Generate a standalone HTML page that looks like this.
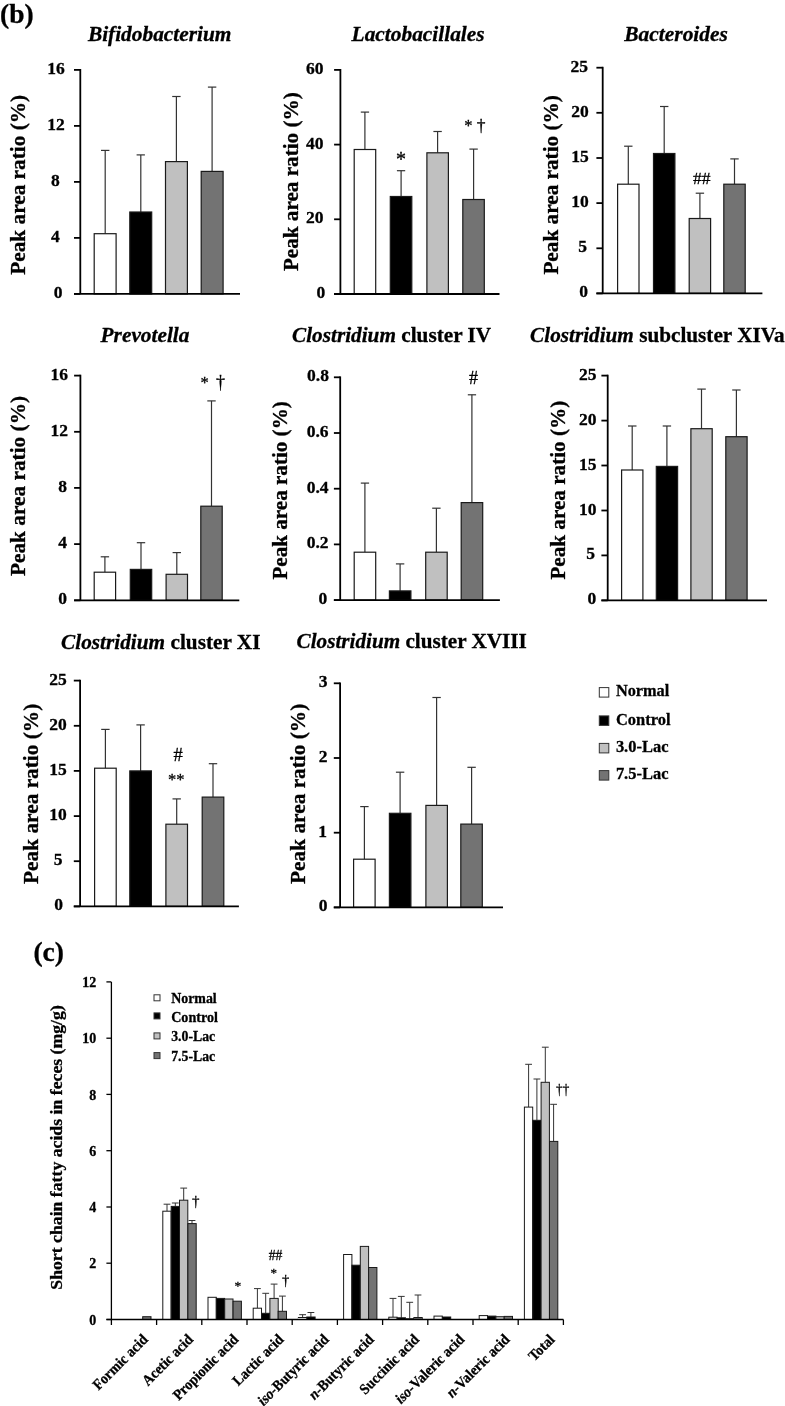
<!DOCTYPE html>
<html><head><meta charset="utf-8"><style>
html,body{margin:0;padding:0;background:#fff;}
svg{display:block;font-family:'Liberation Serif', 'Times New Roman', serif;}
text{stroke:#000;stroke-width:0.3px;}
</style></head><body>
<svg width="785" height="1406" viewBox="0 0 785 1406">
<line x1="105.2" y1="233.7" x2="105.2" y2="150.4" stroke="#333" stroke-width="1.2"/>
<line x1="101.0" y1="150.4" x2="109.4" y2="150.4" stroke="#333" stroke-width="1.2"/>
<rect x="94.2" y="233.7" width="21.9" height="60.2" fill="#ffffff" stroke="#1a1a1a" stroke-width="1.2"/>
<line x1="140.8" y1="212.0" x2="140.8" y2="154.9" stroke="#333" stroke-width="1.2"/>
<line x1="136.6" y1="154.9" x2="144.9" y2="154.9" stroke="#333" stroke-width="1.2"/>
<rect x="129.8" y="212.0" width="21.9" height="81.9" fill="#000000" stroke="#1a1a1a" stroke-width="1.2"/>
<line x1="176.4" y1="161.6" x2="176.4" y2="96.5" stroke="#333" stroke-width="1.2"/>
<line x1="172.2" y1="96.5" x2="180.6" y2="96.5" stroke="#333" stroke-width="1.2"/>
<rect x="165.5" y="161.6" width="21.9" height="132.3" fill="#c0c0c0" stroke="#1a1a1a" stroke-width="1.2"/>
<line x1="212.1" y1="171.4" x2="212.1" y2="87.1" stroke="#333" stroke-width="1.2"/>
<line x1="207.9" y1="87.1" x2="216.3" y2="87.1" stroke="#333" stroke-width="1.2"/>
<rect x="201.2" y="171.4" width="21.9" height="122.5" fill="#737373" stroke="#1a1a1a" stroke-width="1.2"/>
<line x1="80.3" y1="69.0" x2="80.3" y2="293.9" stroke="#000" stroke-width="1.8"/>
<line x1="74.0" y1="293.9" x2="240" y2="293.9" stroke="#000" stroke-width="1.8"/>
<line x1="74.0" y1="293.9" x2="80.3" y2="293.9" stroke="#000" stroke-width="1.8"/>
<text x="62.4" y="297.9" text-anchor="end" style="font-size:17.5px;font-weight:bold" >0</text>
<line x1="74.0" y1="237.9" x2="80.3" y2="237.9" stroke="#000" stroke-width="1.8"/>
<text x="59.7" y="241.9" text-anchor="end" style="font-size:17.5px;font-weight:bold" >4</text>
<line x1="74.0" y1="181.9" x2="80.3" y2="181.9" stroke="#000" stroke-width="1.8"/>
<text x="59.7" y="185.9" text-anchor="end" style="font-size:17.5px;font-weight:bold" >8</text>
<line x1="74.0" y1="125.9" x2="80.3" y2="125.9" stroke="#000" stroke-width="1.8"/>
<text x="64.8" y="129.9" text-anchor="end" style="font-size:17.5px;font-weight:bold" >12</text>
<line x1="74.0" y1="69.9" x2="80.3" y2="69.9" stroke="#000" stroke-width="1.8"/>
<text x="64.8" y="73.9" text-anchor="end" style="font-size:17.5px;font-weight:bold" >16</text>
<text x="87.9" y="41.4" textLength="143.6" lengthAdjust="spacingAndGlyphs" style="font-size:21px;font-weight:bold"><tspan font-style="italic">Bifidobacterium</tspan></text>
<text transform="translate(24.8,274.8) rotate(-90)" textLength="180.0" lengthAdjust="spacingAndGlyphs" style="font-size:21px;font-weight:bold">Peak area ratio (%)</text>
<line x1="364.9" y1="149.5" x2="364.9" y2="112.1" stroke="#333" stroke-width="1.2"/>
<line x1="360.8" y1="112.1" x2="369.1" y2="112.1" stroke="#333" stroke-width="1.2"/>
<rect x="354.2" y="149.5" width="21.5" height="144.5" fill="#ffffff" stroke="#1a1a1a" stroke-width="1.2"/>
<line x1="401.1" y1="196.5" x2="401.1" y2="170.7" stroke="#333" stroke-width="1.2"/>
<line x1="396.9" y1="170.7" x2="405.2" y2="170.7" stroke="#333" stroke-width="1.2"/>
<rect x="390.3" y="196.5" width="21.5" height="97.5" fill="#000000" stroke="#1a1a1a" stroke-width="1.2"/>
<line x1="437.6" y1="152.8" x2="437.6" y2="131.5" stroke="#333" stroke-width="1.2"/>
<line x1="433.4" y1="131.5" x2="441.8" y2="131.5" stroke="#333" stroke-width="1.2"/>
<rect x="426.9" y="152.8" width="21.5" height="141.2" fill="#c0c0c0" stroke="#1a1a1a" stroke-width="1.2"/>
<line x1="473.6" y1="199.5" x2="473.6" y2="149.1" stroke="#333" stroke-width="1.2"/>
<line x1="469.4" y1="149.1" x2="477.8" y2="149.1" stroke="#333" stroke-width="1.2"/>
<rect x="462.8" y="199.5" width="21.5" height="94.5" fill="#737373" stroke="#1a1a1a" stroke-width="1.2"/>
<line x1="340.4" y1="69.0" x2="340.4" y2="294.0" stroke="#000" stroke-width="1.8"/>
<line x1="334.1" y1="294.0" x2="499.5" y2="294.0" stroke="#000" stroke-width="1.8"/>
<line x1="334.1" y1="294.0" x2="340.4" y2="294.0" stroke="#000" stroke-width="1.8"/>
<text x="325.3" y="298.0" text-anchor="end" style="font-size:17.5px;font-weight:bold" >0</text>
<line x1="334.1" y1="219.3" x2="340.4" y2="219.3" stroke="#000" stroke-width="1.8"/>
<text x="323.6" y="223.3" text-anchor="end" style="font-size:17.5px;font-weight:bold" >20</text>
<line x1="334.1" y1="144.6" x2="340.4" y2="144.6" stroke="#000" stroke-width="1.8"/>
<text x="323.6" y="148.6" text-anchor="end" style="font-size:17.5px;font-weight:bold" >40</text>
<line x1="334.1" y1="69.9" x2="340.4" y2="69.9" stroke="#000" stroke-width="1.8"/>
<text x="323.6" y="73.9" text-anchor="end" style="font-size:17.5px;font-weight:bold" >60</text>
<text x="351.6" y="41.4" textLength="133.0" lengthAdjust="spacingAndGlyphs" style="font-size:21px;font-weight:bold"><tspan font-style="italic">Lactobacillales</tspan></text>
<text transform="translate(297.8,271.1) rotate(-90)" textLength="178.8" lengthAdjust="spacingAndGlyphs" style="font-size:21px;font-weight:bold">Peak area ratio (%)</text>
<line x1="628.3" y1="184.2" x2="628.3" y2="146.2" stroke="#333" stroke-width="1.2"/>
<line x1="624.1" y1="146.2" x2="632.5" y2="146.2" stroke="#333" stroke-width="1.2"/>
<rect x="617.6" y="184.2" width="21.4" height="109.2" fill="#ffffff" stroke="#1a1a1a" stroke-width="1.2"/>
<line x1="664.2" y1="153.5" x2="664.2" y2="106.5" stroke="#333" stroke-width="1.2"/>
<line x1="660.0" y1="106.5" x2="668.4" y2="106.5" stroke="#333" stroke-width="1.2"/>
<rect x="653.5" y="153.5" width="21.4" height="139.9" fill="#000000" stroke="#1a1a1a" stroke-width="1.2"/>
<line x1="699.9" y1="218.5" x2="699.9" y2="193.2" stroke="#333" stroke-width="1.2"/>
<line x1="695.7" y1="193.2" x2="704.1" y2="193.2" stroke="#333" stroke-width="1.2"/>
<rect x="689.2" y="218.5" width="21.4" height="74.9" fill="#c0c0c0" stroke="#1a1a1a" stroke-width="1.2"/>
<line x1="734.5" y1="184.2" x2="734.5" y2="158.9" stroke="#333" stroke-width="1.2"/>
<line x1="730.3" y1="158.9" x2="738.7" y2="158.9" stroke="#333" stroke-width="1.2"/>
<rect x="723.8" y="184.2" width="21.4" height="109.2" fill="#737373" stroke="#1a1a1a" stroke-width="1.2"/>
<line x1="602.7" y1="66.8" x2="602.7" y2="293.4" stroke="#000" stroke-width="1.8"/>
<line x1="596.4" y1="293.4" x2="762.4" y2="293.4" stroke="#000" stroke-width="1.8"/>
<line x1="596.4" y1="293.4" x2="602.7" y2="293.4" stroke="#000" stroke-width="1.8"/>
<text x="587.9" y="297.4" text-anchor="end" style="font-size:17.5px;font-weight:bold" >0</text>
<line x1="596.4" y1="248.3" x2="602.7" y2="248.3" stroke="#000" stroke-width="1.8"/>
<text x="587.1" y="252.3" text-anchor="end" style="font-size:17.5px;font-weight:bold" >5</text>
<line x1="596.4" y1="203.1" x2="602.7" y2="203.1" stroke="#000" stroke-width="1.8"/>
<text x="588.8" y="207.1" text-anchor="end" style="font-size:17.5px;font-weight:bold" >10</text>
<line x1="596.4" y1="158.0" x2="602.7" y2="158.0" stroke="#000" stroke-width="1.8"/>
<text x="588.8" y="162.0" text-anchor="end" style="font-size:17.5px;font-weight:bold" >15</text>
<line x1="596.4" y1="112.8" x2="602.7" y2="112.8" stroke="#000" stroke-width="1.8"/>
<text x="588.8" y="116.8" text-anchor="end" style="font-size:17.5px;font-weight:bold" >20</text>
<line x1="596.4" y1="67.7" x2="602.7" y2="67.7" stroke="#000" stroke-width="1.8"/>
<text x="587.9" y="71.7" text-anchor="end" style="font-size:17.5px;font-weight:bold" >25</text>
<text x="624.3" y="41.0" textLength="103.6" lengthAdjust="spacingAndGlyphs" style="font-size:21px;font-weight:bold"><tspan font-style="italic">Bacteroides</tspan></text>
<text transform="translate(557.8,274.6) rotate(-90)" textLength="179.5" lengthAdjust="spacingAndGlyphs" style="font-size:21px;font-weight:bold">Peak area ratio (%)</text>
<line x1="104.9" y1="572.2" x2="104.9" y2="556.8" stroke="#333" stroke-width="1.2"/>
<line x1="100.7" y1="556.8" x2="109.1" y2="556.8" stroke="#333" stroke-width="1.2"/>
<rect x="94.2" y="572.2" width="21.4" height="28.1" fill="#ffffff" stroke="#1a1a1a" stroke-width="1.2"/>
<line x1="141.0" y1="569.4" x2="141.0" y2="542.7" stroke="#333" stroke-width="1.2"/>
<line x1="136.8" y1="542.7" x2="145.2" y2="542.7" stroke="#333" stroke-width="1.2"/>
<rect x="130.3" y="569.4" width="21.4" height="30.9" fill="#000000" stroke="#1a1a1a" stroke-width="1.2"/>
<line x1="176.8" y1="574.3" x2="176.8" y2="552.6" stroke="#333" stroke-width="1.2"/>
<line x1="172.6" y1="552.6" x2="181.0" y2="552.6" stroke="#333" stroke-width="1.2"/>
<rect x="166.1" y="574.3" width="21.4" height="26.0" fill="#c0c0c0" stroke="#1a1a1a" stroke-width="1.2"/>
<line x1="211.5" y1="506.2" x2="211.5" y2="400.9" stroke="#333" stroke-width="1.2"/>
<line x1="207.3" y1="400.9" x2="215.7" y2="400.9" stroke="#333" stroke-width="1.2"/>
<rect x="200.8" y="506.2" width="21.4" height="94.1" fill="#737373" stroke="#1a1a1a" stroke-width="1.2"/>
<line x1="80.4" y1="374.70000000000005" x2="80.4" y2="600.3" stroke="#000" stroke-width="1.8"/>
<line x1="74.1" y1="600.3" x2="239.3" y2="600.3" stroke="#000" stroke-width="1.8"/>
<line x1="74.1" y1="600.3" x2="80.4" y2="600.3" stroke="#000" stroke-width="1.8"/>
<text x="67.1" y="604.3" text-anchor="end" style="font-size:17.5px;font-weight:bold" >0</text>
<line x1="74.1" y1="544.1" x2="80.4" y2="544.1" stroke="#000" stroke-width="1.8"/>
<text x="67.1" y="548.1" text-anchor="end" style="font-size:17.5px;font-weight:bold" >4</text>
<line x1="74.1" y1="487.9" x2="80.4" y2="487.9" stroke="#000" stroke-width="1.8"/>
<text x="67.1" y="491.9" text-anchor="end" style="font-size:17.5px;font-weight:bold" >8</text>
<line x1="74.1" y1="431.8" x2="80.4" y2="431.8" stroke="#000" stroke-width="1.8"/>
<text x="67.9" y="435.8" text-anchor="end" style="font-size:17.5px;font-weight:bold" >12</text>
<line x1="74.1" y1="375.6" x2="80.4" y2="375.6" stroke="#000" stroke-width="1.8"/>
<text x="67.9" y="379.6" text-anchor="end" style="font-size:17.5px;font-weight:bold" >16</text>
<text x="100.6" y="342.0" textLength="88.8" lengthAdjust="spacingAndGlyphs" style="font-size:21px;font-weight:bold"><tspan font-style="italic">Prevotella</tspan></text>
<text transform="translate(25.1,576.1) rotate(-90)" textLength="180.2" lengthAdjust="spacingAndGlyphs" style="font-size:21px;font-weight:bold">Peak area ratio (%)</text>
<line x1="364.9" y1="552.2" x2="364.9" y2="483.1" stroke="#333" stroke-width="1.2"/>
<line x1="360.8" y1="483.1" x2="369.1" y2="483.1" stroke="#333" stroke-width="1.2"/>
<rect x="354.2" y="552.2" width="21.5" height="47.9" fill="#ffffff" stroke="#1a1a1a" stroke-width="1.2"/>
<line x1="400.1" y1="590.9" x2="400.1" y2="563.9" stroke="#333" stroke-width="1.2"/>
<line x1="395.9" y1="563.9" x2="404.3" y2="563.9" stroke="#333" stroke-width="1.2"/>
<rect x="389.4" y="590.9" width="21.5" height="9.2" fill="#000000" stroke="#1a1a1a" stroke-width="1.2"/>
<line x1="436.4" y1="552.2" x2="436.4" y2="508.2" stroke="#333" stroke-width="1.2"/>
<line x1="432.2" y1="508.2" x2="440.6" y2="508.2" stroke="#333" stroke-width="1.2"/>
<rect x="425.7" y="552.2" width="21.5" height="47.9" fill="#c0c0c0" stroke="#1a1a1a" stroke-width="1.2"/>
<line x1="471.9" y1="502.6" x2="471.9" y2="394.8" stroke="#333" stroke-width="1.2"/>
<line x1="467.8" y1="394.8" x2="476.1" y2="394.8" stroke="#333" stroke-width="1.2"/>
<rect x="461.2" y="502.6" width="21.5" height="97.5" fill="#737373" stroke="#1a1a1a" stroke-width="1.2"/>
<line x1="340.2" y1="376.40000000000003" x2="340.2" y2="600.1" stroke="#000" stroke-width="1.8"/>
<line x1="333.9" y1="600.1" x2="499.9" y2="600.1" stroke="#000" stroke-width="1.8"/>
<line x1="333.9" y1="600.1" x2="340.2" y2="600.1" stroke="#000" stroke-width="1.8"/>
<text x="327.2" y="604.1" text-anchor="end" style="font-size:17.5px;font-weight:bold" >0</text>
<line x1="333.9" y1="544.4" x2="340.2" y2="544.4" stroke="#000" stroke-width="1.8"/>
<text x="328.6" y="548.4" text-anchor="end" style="font-size:17.5px;font-weight:bold" >0.2</text>
<line x1="333.9" y1="488.7" x2="340.2" y2="488.7" stroke="#000" stroke-width="1.8"/>
<text x="328.6" y="492.7" text-anchor="end" style="font-size:17.5px;font-weight:bold" >0.4</text>
<line x1="333.9" y1="433.0" x2="340.2" y2="433.0" stroke="#000" stroke-width="1.8"/>
<text x="328.6" y="437.0" text-anchor="end" style="font-size:17.5px;font-weight:bold" >0.6</text>
<line x1="333.9" y1="377.3" x2="340.2" y2="377.3" stroke="#000" stroke-width="1.8"/>
<text x="328.9" y="381.3" text-anchor="end" style="font-size:17.5px;font-weight:bold" >0.8</text>
<text x="292.0" y="341.9" textLength="199.2" lengthAdjust="spacingAndGlyphs" style="font-size:21px;font-weight:bold"><tspan font-style="italic">Clostridium</tspan> cluster IV</text>
<text transform="translate(287.2,579.6) rotate(-90)" textLength="178.4" lengthAdjust="spacingAndGlyphs" style="font-size:21px;font-weight:bold">Peak area ratio (%)</text>
<line x1="632.2" y1="470.0" x2="632.2" y2="426.0" stroke="#333" stroke-width="1.2"/>
<line x1="628.0" y1="426.0" x2="636.5" y2="426.0" stroke="#333" stroke-width="1.2"/>
<rect x="621.6" y="470.0" width="21.3" height="130.4" fill="#ffffff" stroke="#1a1a1a" stroke-width="1.2"/>
<line x1="666.9" y1="466.4" x2="666.9" y2="426.0" stroke="#333" stroke-width="1.2"/>
<line x1="662.7" y1="426.0" x2="671.1" y2="426.0" stroke="#333" stroke-width="1.2"/>
<rect x="656.3" y="466.4" width="21.3" height="134.0" fill="#000000" stroke="#1a1a1a" stroke-width="1.2"/>
<line x1="701.5" y1="428.7" x2="701.5" y2="389.1" stroke="#333" stroke-width="1.2"/>
<line x1="697.3" y1="389.1" x2="705.8" y2="389.1" stroke="#333" stroke-width="1.2"/>
<rect x="690.9" y="428.7" width="21.3" height="171.7" fill="#c0c0c0" stroke="#1a1a1a" stroke-width="1.2"/>
<line x1="736.4" y1="436.7" x2="736.4" y2="390.0" stroke="#333" stroke-width="1.2"/>
<line x1="732.2" y1="390.0" x2="740.6" y2="390.0" stroke="#333" stroke-width="1.2"/>
<rect x="725.8" y="436.7" width="21.3" height="163.7" fill="#737373" stroke="#1a1a1a" stroke-width="1.2"/>
<line x1="607.7" y1="374.70000000000005" x2="607.7" y2="600.4" stroke="#000" stroke-width="1.8"/>
<line x1="601.4" y1="600.4" x2="767" y2="600.4" stroke="#000" stroke-width="1.8"/>
<line x1="601.4" y1="600.4" x2="607.7" y2="600.4" stroke="#000" stroke-width="1.8"/>
<text x="596.3" y="604.4" text-anchor="end" style="font-size:17.5px;font-weight:bold" >0</text>
<line x1="601.4" y1="555.4" x2="607.7" y2="555.4" stroke="#000" stroke-width="1.8"/>
<text x="595.0" y="559.4" text-anchor="end" style="font-size:17.5px;font-weight:bold" >5</text>
<line x1="601.4" y1="510.5" x2="607.7" y2="510.5" stroke="#000" stroke-width="1.8"/>
<text x="596.6" y="514.5" text-anchor="end" style="font-size:17.5px;font-weight:bold" >10</text>
<line x1="601.4" y1="465.5" x2="607.7" y2="465.5" stroke="#000" stroke-width="1.8"/>
<text x="596.6" y="469.5" text-anchor="end" style="font-size:17.5px;font-weight:bold" >15</text>
<line x1="601.4" y1="420.6" x2="607.7" y2="420.6" stroke="#000" stroke-width="1.8"/>
<text x="596.6" y="424.6" text-anchor="end" style="font-size:17.5px;font-weight:bold" >20</text>
<line x1="601.4" y1="375.6" x2="607.7" y2="375.6" stroke="#000" stroke-width="1.8"/>
<text x="596.6" y="379.6" text-anchor="end" style="font-size:17.5px;font-weight:bold" >25</text>
<text x="530.1" y="342.2" textLength="254.6" lengthAdjust="spacingAndGlyphs" style="font-size:21px;font-weight:bold"><tspan font-style="italic">Clostridium</tspan> subcluster XIVa</text>
<text transform="translate(564.7,579.6) rotate(-90)" textLength="178.8" lengthAdjust="spacingAndGlyphs" style="font-size:21px;font-weight:bold">Peak area ratio (%)</text>
<line x1="105.4" y1="768.2" x2="105.4" y2="729.4" stroke="#333" stroke-width="1.2"/>
<line x1="101.2" y1="729.4" x2="109.6" y2="729.4" stroke="#333" stroke-width="1.2"/>
<rect x="94.6" y="768.2" width="21.6" height="138.2" fill="#ffffff" stroke="#1a1a1a" stroke-width="1.2"/>
<line x1="140.6" y1="770.9" x2="140.6" y2="724.9" stroke="#333" stroke-width="1.2"/>
<line x1="136.4" y1="724.9" x2="144.8" y2="724.9" stroke="#333" stroke-width="1.2"/>
<rect x="129.8" y="770.9" width="21.6" height="135.5" fill="#000000" stroke="#1a1a1a" stroke-width="1.2"/>
<line x1="176.7" y1="824.2" x2="176.7" y2="798.9" stroke="#333" stroke-width="1.2"/>
<line x1="172.5" y1="798.9" x2="180.9" y2="798.9" stroke="#333" stroke-width="1.2"/>
<rect x="165.9" y="824.2" width="21.6" height="82.2" fill="#c0c0c0" stroke="#1a1a1a" stroke-width="1.2"/>
<line x1="213.0" y1="797.1" x2="213.0" y2="763.7" stroke="#333" stroke-width="1.2"/>
<line x1="208.8" y1="763.7" x2="217.2" y2="763.7" stroke="#333" stroke-width="1.2"/>
<rect x="202.2" y="797.1" width="21.6" height="109.3" fill="#737373" stroke="#1a1a1a" stroke-width="1.2"/>
<line x1="80.1" y1="679.7" x2="80.1" y2="906.4" stroke="#000" stroke-width="1.8"/>
<line x1="73.8" y1="906.4" x2="238.9" y2="906.4" stroke="#000" stroke-width="1.8"/>
<line x1="73.8" y1="906.4" x2="80.1" y2="906.4" stroke="#000" stroke-width="1.8"/>
<text x="62.9" y="910.4" text-anchor="end" style="font-size:17.5px;font-weight:bold" >0</text>
<line x1="73.8" y1="861.2" x2="80.1" y2="861.2" stroke="#000" stroke-width="1.8"/>
<text x="62.6" y="865.2" text-anchor="end" style="font-size:17.5px;font-weight:bold" >5</text>
<line x1="73.8" y1="816.1" x2="80.1" y2="816.1" stroke="#000" stroke-width="1.8"/>
<text x="66.7" y="820.1" text-anchor="end" style="font-size:17.5px;font-weight:bold" >10</text>
<line x1="73.8" y1="770.9" x2="80.1" y2="770.9" stroke="#000" stroke-width="1.8"/>
<text x="66.7" y="774.9" text-anchor="end" style="font-size:17.5px;font-weight:bold" >15</text>
<line x1="73.8" y1="725.8" x2="80.1" y2="725.8" stroke="#000" stroke-width="1.8"/>
<text x="66.7" y="729.8" text-anchor="end" style="font-size:17.5px;font-weight:bold" >20</text>
<line x1="73.8" y1="680.6" x2="80.1" y2="680.6" stroke="#000" stroke-width="1.8"/>
<text x="66.7" y="684.6" text-anchor="end" style="font-size:17.5px;font-weight:bold" >25</text>
<text x="61.1" y="648.5" textLength="199.4" lengthAdjust="spacingAndGlyphs" style="font-size:21px;font-weight:bold"><tspan font-style="italic">Clostridium</tspan> cluster XI</text>
<text transform="translate(37.9,883.9) rotate(-90)" textLength="180.2" lengthAdjust="spacingAndGlyphs" style="font-size:21px;font-weight:bold">Peak area ratio (%)</text>
<line x1="364.4" y1="859.2" x2="364.4" y2="806.6" stroke="#333" stroke-width="1.2"/>
<line x1="360.2" y1="806.6" x2="368.6" y2="806.6" stroke="#333" stroke-width="1.2"/>
<rect x="353.6" y="859.2" width="21.5" height="48.2" fill="#ffffff" stroke="#1a1a1a" stroke-width="1.2"/>
<line x1="400.1" y1="813.3" x2="400.1" y2="772.2" stroke="#333" stroke-width="1.2"/>
<line x1="395.9" y1="772.2" x2="404.3" y2="772.2" stroke="#333" stroke-width="1.2"/>
<rect x="389.4" y="813.3" width="21.5" height="94.1" fill="#000000" stroke="#1a1a1a" stroke-width="1.2"/>
<line x1="436.6" y1="805.4" x2="436.6" y2="697.5" stroke="#333" stroke-width="1.2"/>
<line x1="432.4" y1="697.5" x2="440.8" y2="697.5" stroke="#333" stroke-width="1.2"/>
<rect x="425.9" y="805.4" width="21.5" height="102.0" fill="#c0c0c0" stroke="#1a1a1a" stroke-width="1.2"/>
<line x1="471.6" y1="824.1" x2="471.6" y2="767.3" stroke="#333" stroke-width="1.2"/>
<line x1="467.4" y1="767.3" x2="475.8" y2="767.3" stroke="#333" stroke-width="1.2"/>
<rect x="460.8" y="824.1" width="21.5" height="83.3" fill="#737373" stroke="#1a1a1a" stroke-width="1.2"/>
<line x1="340.1" y1="682.4" x2="340.1" y2="907.4" stroke="#000" stroke-width="1.8"/>
<line x1="333.8" y1="907.4" x2="503" y2="907.4" stroke="#000" stroke-width="1.8"/>
<line x1="333.8" y1="907.4" x2="340.1" y2="907.4" stroke="#000" stroke-width="1.8"/>
<text x="327.6" y="911.4" text-anchor="end" style="font-size:17.5px;font-weight:bold" >0</text>
<line x1="333.8" y1="832.7" x2="340.1" y2="832.7" stroke="#000" stroke-width="1.8"/>
<text x="327.1" y="836.7" text-anchor="end" style="font-size:17.5px;font-weight:bold" >1</text>
<line x1="333.8" y1="758.0" x2="340.1" y2="758.0" stroke="#000" stroke-width="1.8"/>
<text x="327.6" y="762.0" text-anchor="end" style="font-size:17.5px;font-weight:bold" >2</text>
<line x1="333.8" y1="683.3" x2="340.1" y2="683.3" stroke="#000" stroke-width="1.8"/>
<text x="327.6" y="687.3" text-anchor="end" style="font-size:17.5px;font-weight:bold" >3</text>
<text x="296.6" y="648.0" textLength="230.2" lengthAdjust="spacingAndGlyphs" style="font-size:21px;font-weight:bold"><tspan font-style="italic">Clostridium</tspan> cluster XVIII</text>
<text transform="translate(304.7,883.9) rotate(-90)" textLength="180.2" lengthAdjust="spacingAndGlyphs" style="font-size:21px;font-weight:bold">Peak area ratio (%)</text>
<text x="395.9" y="166.0" style="font-size:20px">*</text>
<text x="464.3" y="131.1" style="font-size:16.5px">*</text>
<text x="476.8" y="131.0" style="font-size:17.5px">†</text>
<text x="693.0" y="184.1" style="font-size:17.5px">##</text>
<text x="200.6" y="388.1" style="font-size:16.5px">*</text>
<text x="216.1" y="388.3" style="font-size:18px">†</text>
<text x="468.9" y="383.9" style="font-size:18px">#</text>
<text x="173.4" y="760.9" style="font-size:18.5px">#</text>
<text x="168.1" y="785.3" style="font-size:16.5px">**</text>
<text x="0.0" y="22.9" text-anchor="start" style="font-size:27.5px;font-weight:bold" >(b)</text>
<rect x="599.3" y="687.6" width="9.5" height="9.5" fill="#ffffff" stroke="#333" stroke-width="1"/>
<text x="615.9" y="696.4" textLength="53.4" lengthAdjust="spacingAndGlyphs" style="font-size:17.6px;font-weight:bold">Normal</text>
<rect x="599.3" y="715.9" width="9.5" height="9.5" fill="#000000" stroke="#333" stroke-width="1"/>
<text x="615.9" y="724.7" textLength="54.6" lengthAdjust="spacingAndGlyphs" style="font-size:17.6px;font-weight:bold">Control</text>
<rect x="599.3" y="743.4" width="9.5" height="9.5" fill="#c0c0c0" stroke="#333" stroke-width="1"/>
<text x="615.9" y="752.2" textLength="52.6" lengthAdjust="spacingAndGlyphs" style="font-size:17.6px;font-weight:bold">3.0-Lac</text>
<rect x="599.3" y="770.6" width="9.5" height="9.5" fill="#737373" stroke="#333" stroke-width="1"/>
<text x="615.9" y="779.4" textLength="52.6" lengthAdjust="spacingAndGlyphs" style="font-size:17.6px;font-weight:bold">7.5-Lac</text>
<text x="33.4" y="961.4" text-anchor="start" style="font-size:27.5px;font-weight:bold" >(c)</text>
<rect x="142.7" y="1316.7" width="8.3" height="2.8" fill="#737373" stroke="#1a1a1a" stroke-width="1"/>
<text transform="translate(148.8,1340.4) rotate(-45)" text-anchor="end" textLength="71.25" lengthAdjust="spacingAndGlyphs" style="font-size:15px;font-weight:bold">Formic acid</text>
<line x1="167.0" y1="1211.2" x2="167.0" y2="1204.2" stroke="#333" stroke-width="1"/>
<line x1="163.6" y1="1204.2" x2="170.4" y2="1204.2" stroke="#333" stroke-width="1"/>
<rect x="162.8" y="1211.2" width="8.3" height="108.3" fill="#ffffff" stroke="#1a1a1a" stroke-width="1"/>
<line x1="175.3" y1="1206.4" x2="175.3" y2="1203.0" stroke="#333" stroke-width="1"/>
<line x1="171.9" y1="1203.0" x2="178.7" y2="1203.0" stroke="#333" stroke-width="1"/>
<rect x="171.2" y="1206.4" width="8.3" height="113.1" fill="#000000" stroke="#1a1a1a" stroke-width="1"/>
<line x1="183.7" y1="1200.2" x2="183.7" y2="1188.1" stroke="#333" stroke-width="1"/>
<line x1="180.3" y1="1188.1" x2="187.1" y2="1188.1" stroke="#333" stroke-width="1"/>
<rect x="179.5" y="1200.2" width="8.3" height="119.3" fill="#c0c0c0" stroke="#1a1a1a" stroke-width="1"/>
<line x1="192.0" y1="1223.6" x2="192.0" y2="1220.5" stroke="#333" stroke-width="1"/>
<line x1="188.6" y1="1220.5" x2="195.4" y2="1220.5" stroke="#333" stroke-width="1"/>
<rect x="187.9" y="1223.6" width="8.3" height="95.9" fill="#737373" stroke="#1a1a1a" stroke-width="1"/>
<text transform="translate(194.0,1340.4) rotate(-45)" text-anchor="end" textLength="65.08" lengthAdjust="spacingAndGlyphs" style="font-size:15px;font-weight:bold">Acetic acid</text>
<rect x="208.0" y="1297.3" width="8.3" height="22.2" fill="#ffffff" stroke="#1a1a1a" stroke-width="1"/>
<rect x="216.3" y="1298.4" width="8.3" height="21.1" fill="#000000" stroke="#1a1a1a" stroke-width="1"/>
<rect x="224.7" y="1299.0" width="8.3" height="20.5" fill="#c0c0c0" stroke="#1a1a1a" stroke-width="1"/>
<rect x="233.1" y="1301.2" width="8.3" height="18.3" fill="#737373" stroke="#1a1a1a" stroke-width="1"/>
<text transform="translate(239.2,1340.4) rotate(-45)" text-anchor="end" textLength="85.66" lengthAdjust="spacingAndGlyphs" style="font-size:15px;font-weight:bold">Propionic acid</text>
<line x1="257.4" y1="1308.2" x2="257.4" y2="1288.6" stroke="#333" stroke-width="1"/>
<line x1="254.0" y1="1288.6" x2="260.8" y2="1288.6" stroke="#333" stroke-width="1"/>
<rect x="253.2" y="1308.2" width="8.3" height="11.3" fill="#ffffff" stroke="#1a1a1a" stroke-width="1"/>
<line x1="265.7" y1="1313.3" x2="265.7" y2="1293.3" stroke="#333" stroke-width="1"/>
<line x1="262.3" y1="1293.3" x2="269.1" y2="1293.3" stroke="#333" stroke-width="1"/>
<rect x="261.6" y="1313.3" width="8.3" height="6.2" fill="#000000" stroke="#1a1a1a" stroke-width="1"/>
<line x1="274.1" y1="1298.4" x2="274.1" y2="1284.1" stroke="#333" stroke-width="1"/>
<line x1="270.7" y1="1284.1" x2="277.5" y2="1284.1" stroke="#333" stroke-width="1"/>
<rect x="269.9" y="1298.4" width="8.3" height="21.1" fill="#c0c0c0" stroke="#1a1a1a" stroke-width="1"/>
<line x1="282.4" y1="1311.3" x2="282.4" y2="1296.1" stroke="#333" stroke-width="1"/>
<line x1="279.0" y1="1296.1" x2="285.8" y2="1296.1" stroke="#333" stroke-width="1"/>
<rect x="278.2" y="1311.3" width="8.3" height="8.2" fill="#737373" stroke="#1a1a1a" stroke-width="1"/>
<text transform="translate(284.4,1340.4) rotate(-45)" text-anchor="end" textLength="65.10" lengthAdjust="spacingAndGlyphs" style="font-size:15px;font-weight:bold">Lactic acid</text>
<line x1="302.6" y1="1317.5" x2="302.6" y2="1314.7" stroke="#333" stroke-width="1"/>
<line x1="299.2" y1="1314.7" x2="306.0" y2="1314.7" stroke="#333" stroke-width="1"/>
<rect x="298.4" y="1317.5" width="8.3" height="2.0" fill="#ffffff" stroke="#1a1a1a" stroke-width="1"/>
<line x1="310.9" y1="1317.0" x2="310.9" y2="1312.5" stroke="#333" stroke-width="1"/>
<line x1="307.5" y1="1312.5" x2="314.3" y2="1312.5" stroke="#333" stroke-width="1"/>
<rect x="306.8" y="1317.0" width="8.3" height="2.5" fill="#000000" stroke="#1a1a1a" stroke-width="1"/>
<text transform="translate(329.6,1340.4) rotate(-45)" text-anchor="end" textLength="93.62" lengthAdjust="spacingAndGlyphs" style="font-size:15px;font-weight:bold"><tspan font-style="italic">iso</tspan>-Butyric acid</text>
<rect x="343.6" y="1254.5" width="8.3" height="65.0" fill="#ffffff" stroke="#1a1a1a" stroke-width="1"/>
<rect x="351.9" y="1265.2" width="8.3" height="54.3" fill="#000000" stroke="#1a1a1a" stroke-width="1"/>
<rect x="360.3" y="1246.4" width="8.3" height="73.1" fill="#c0c0c0" stroke="#1a1a1a" stroke-width="1"/>
<rect x="368.6" y="1267.5" width="8.3" height="52.0" fill="#737373" stroke="#1a1a1a" stroke-width="1"/>
<text transform="translate(374.8,1340.4) rotate(-45)" text-anchor="end" textLength="85.15" lengthAdjust="spacingAndGlyphs" style="font-size:15px;font-weight:bold"><tspan font-style="italic">n</tspan>-Butyric acid</text>
<line x1="393.0" y1="1317.2" x2="393.0" y2="1298.4" stroke="#333" stroke-width="1"/>
<line x1="389.6" y1="1298.4" x2="396.4" y2="1298.4" stroke="#333" stroke-width="1"/>
<rect x="388.8" y="1317.2" width="8.3" height="2.3" fill="#ffffff" stroke="#1a1a1a" stroke-width="1"/>
<line x1="401.3" y1="1317.8" x2="401.3" y2="1296.4" stroke="#333" stroke-width="1"/>
<line x1="397.9" y1="1296.4" x2="404.7" y2="1296.4" stroke="#333" stroke-width="1"/>
<rect x="397.2" y="1317.8" width="8.3" height="1.7" fill="#000000" stroke="#1a1a1a" stroke-width="1"/>
<line x1="409.7" y1="1318.7" x2="409.7" y2="1302.3" stroke="#333" stroke-width="1"/>
<line x1="406.3" y1="1302.3" x2="413.1" y2="1302.3" stroke="#333" stroke-width="1"/>
<rect x="405.5" y="1318.7" width="8.3" height="0.8" fill="#c0c0c0" stroke="#1a1a1a" stroke-width="1"/>
<line x1="418.0" y1="1317.5" x2="418.0" y2="1295.0" stroke="#333" stroke-width="1"/>
<line x1="414.6" y1="1295.0" x2="421.4" y2="1295.0" stroke="#333" stroke-width="1"/>
<rect x="413.9" y="1317.5" width="8.3" height="2.0" fill="#737373" stroke="#1a1a1a" stroke-width="1"/>
<text transform="translate(420.0,1340.4) rotate(-45)" text-anchor="end" textLength="77.44" lengthAdjust="spacingAndGlyphs" style="font-size:15px;font-weight:bold">Succinic acid</text>
<rect x="434.0" y="1316.1" width="8.3" height="3.4" fill="#ffffff" stroke="#1a1a1a" stroke-width="1"/>
<rect x="442.4" y="1317.0" width="8.3" height="2.5" fill="#000000" stroke="#1a1a1a" stroke-width="1"/>
<text transform="translate(465.2,1340.4) rotate(-45)" text-anchor="end" textLength="90.78" lengthAdjust="spacingAndGlyphs" style="font-size:15px;font-weight:bold"><tspan font-style="italic">iso</tspan>-Valeric acid</text>
<rect x="479.2" y="1315.6" width="8.3" height="3.9" fill="#ffffff" stroke="#1a1a1a" stroke-width="1"/>
<rect x="487.6" y="1316.1" width="8.3" height="3.4" fill="#000000" stroke="#1a1a1a" stroke-width="1"/>
<rect x="495.9" y="1316.7" width="8.3" height="2.8" fill="#c0c0c0" stroke="#1a1a1a" stroke-width="1"/>
<rect x="504.2" y="1316.4" width="8.3" height="3.1" fill="#737373" stroke="#1a1a1a" stroke-width="1"/>
<text transform="translate(510.4,1340.4) rotate(-45)" text-anchor="end" textLength="82.31" lengthAdjust="spacingAndGlyphs" style="font-size:15px;font-weight:bold"><tspan font-style="italic">n</tspan>-Valeric acid</text>
<line x1="528.6" y1="1107.1" x2="528.6" y2="1064.3" stroke="#333" stroke-width="1"/>
<line x1="525.2" y1="1064.3" x2="532.0" y2="1064.3" stroke="#333" stroke-width="1"/>
<rect x="524.4" y="1107.1" width="8.3" height="212.4" fill="#ffffff" stroke="#1a1a1a" stroke-width="1"/>
<line x1="536.9" y1="1120.3" x2="536.9" y2="1079.0" stroke="#333" stroke-width="1"/>
<line x1="533.5" y1="1079.0" x2="540.3" y2="1079.0" stroke="#333" stroke-width="1"/>
<rect x="532.8" y="1120.3" width="8.3" height="199.2" fill="#000000" stroke="#1a1a1a" stroke-width="1"/>
<line x1="545.3" y1="1082.3" x2="545.3" y2="1047.2" stroke="#333" stroke-width="1"/>
<line x1="541.9" y1="1047.2" x2="548.7" y2="1047.2" stroke="#333" stroke-width="1"/>
<rect x="541.1" y="1082.3" width="8.3" height="237.2" fill="#c0c0c0" stroke="#1a1a1a" stroke-width="1"/>
<line x1="553.6" y1="1141.4" x2="553.6" y2="1104.3" stroke="#333" stroke-width="1"/>
<line x1="550.2" y1="1104.3" x2="557.0" y2="1104.3" stroke="#333" stroke-width="1"/>
<rect x="549.5" y="1141.4" width="8.3" height="178.1" fill="#737373" stroke="#1a1a1a" stroke-width="1"/>
<text transform="translate(555.6,1340.4) rotate(-45)" text-anchor="end" textLength="30.33" lengthAdjust="spacingAndGlyphs" style="font-size:15px;font-weight:bold">Total</text>
<line x1="111.4" y1="981.9" x2="111.4" y2="1325.0" stroke="#000" stroke-width="1.3"/>
<line x1="106.4" y1="1319.5" x2="563.4" y2="1319.5" stroke="#000" stroke-width="1.3"/>
<line x1="156.6" y1="1319.5" x2="156.6" y2="1325.0" stroke="#000" stroke-width="1.3"/>
<line x1="201.8" y1="1319.5" x2="201.8" y2="1325.0" stroke="#000" stroke-width="1.3"/>
<line x1="247.0" y1="1319.5" x2="247.0" y2="1325.0" stroke="#000" stroke-width="1.3"/>
<line x1="292.2" y1="1319.5" x2="292.2" y2="1325.0" stroke="#000" stroke-width="1.3"/>
<line x1="337.4" y1="1319.5" x2="337.4" y2="1325.0" stroke="#000" stroke-width="1.3"/>
<line x1="382.6" y1="1319.5" x2="382.6" y2="1325.0" stroke="#000" stroke-width="1.3"/>
<line x1="427.8" y1="1319.5" x2="427.8" y2="1325.0" stroke="#000" stroke-width="1.3"/>
<line x1="473.0" y1="1319.5" x2="473.0" y2="1325.0" stroke="#000" stroke-width="1.3"/>
<line x1="518.2" y1="1319.5" x2="518.2" y2="1325.0" stroke="#000" stroke-width="1.3"/>
<line x1="563.4" y1="1319.5" x2="563.4" y2="1325.0" stroke="#000" stroke-width="1.3"/>
<line x1="106.4" y1="1319.5" x2="111.4" y2="1319.5" stroke="#000" stroke-width="1.3"/>
<text x="96.2" y="1324.7" text-anchor="end" style="font-size:14px;font-weight:bold" >0</text>
<line x1="106.4" y1="1263.2" x2="111.4" y2="1263.2" stroke="#000" stroke-width="1.3"/>
<text x="96.2" y="1268.4" text-anchor="end" style="font-size:14px;font-weight:bold" >2</text>
<line x1="106.4" y1="1207.0" x2="111.4" y2="1207.0" stroke="#000" stroke-width="1.3"/>
<text x="96.2" y="1212.2" text-anchor="end" style="font-size:14px;font-weight:bold" >4</text>
<line x1="106.4" y1="1150.7" x2="111.4" y2="1150.7" stroke="#000" stroke-width="1.3"/>
<text x="96.2" y="1155.9" text-anchor="end" style="font-size:14px;font-weight:bold" >6</text>
<line x1="106.4" y1="1094.4" x2="111.4" y2="1094.4" stroke="#000" stroke-width="1.3"/>
<text x="96.2" y="1099.6" text-anchor="end" style="font-size:14px;font-weight:bold" >8</text>
<line x1="106.4" y1="1038.2" x2="111.4" y2="1038.2" stroke="#000" stroke-width="1.3"/>
<text x="96.2" y="1043.4" text-anchor="end" style="font-size:14px;font-weight:bold" >10</text>
<line x1="106.4" y1="981.9" x2="111.4" y2="981.9" stroke="#000" stroke-width="1.3"/>
<text x="96.2" y="987.1" text-anchor="end" style="font-size:14px;font-weight:bold" >12</text>
<text transform="translate(62.0,1289.7) rotate(-90)" textLength="284.5" lengthAdjust="spacingAndGlyphs" style="font-size:17.5px;font-weight:bold">Short chain fatty acids in feces (mg/g)</text>
<rect x="154" y="994.8" width="6" height="6" fill="#ffffff" stroke="#333" stroke-width="1"/>
<rect x="154" y="1012.9" width="6" height="6" fill="#000000" stroke="#333" stroke-width="1"/>
<rect x="154" y="1032.9" width="6" height="6" fill="#c0c0c0" stroke="#333" stroke-width="1"/>
<rect x="154" y="1052.6" width="6" height="6" fill="#737373" stroke="#333" stroke-width="1"/>
<text x="171.2" y="1003.1" textLength="45.5" lengthAdjust="spacingAndGlyphs" style="font-size:14.5px;font-weight:bold">Normal</text>
<text x="171.2" y="1021.5" textLength="46.7" lengthAdjust="spacingAndGlyphs" style="font-size:14.5px;font-weight:bold">Control</text>
<text x="171.2" y="1041.2" textLength="44.0" lengthAdjust="spacingAndGlyphs" style="font-size:14.5px;font-weight:bold">3.0-Lac</text>
<text x="171.2" y="1060.7" textLength="44.0" lengthAdjust="spacingAndGlyphs" style="font-size:14.5px;font-weight:bold">7.5-Lac</text>
<text x="192" y="1205.8" style="font-size:15px">†</text>
<text x="234.4" y="1289.8" style="font-size:13.5px">*</text>
<text x="270.4" y="1276.6" style="font-size:13px">*</text>
<text x="282.1" y="1285.1" style="font-size:14.5px">†</text>
<text x="268.7" y="1260" textLength="13.6" lengthAdjust="spacingAndGlyphs" style="font-size:14.5px">##</text>
<text x="556.1" y="1094.0" textLength="13.2" lengthAdjust="spacingAndGlyphs" style="font-size:15.5px">††</text>
</svg>
</body></html>
